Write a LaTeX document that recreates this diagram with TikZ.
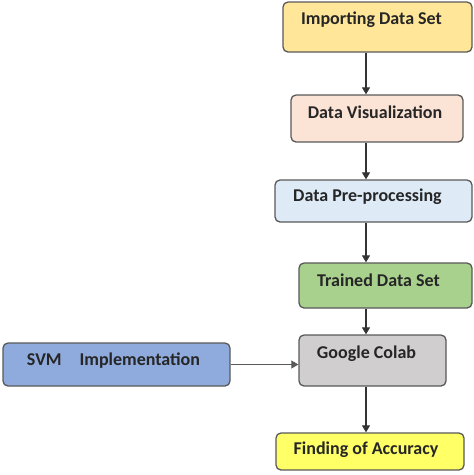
\documentclass[tikz,border=0pt]{standalone}
\usepackage{fontspec}
\setmainfont{Carlito}
\usetikzlibrary{arrows.meta}
\definecolor{impfill}{HTML}{FFE699}
\definecolor{visfill}{HTML}{FBE3D6}
\definecolor{prefill}{HTML}{DEEBF7}
\definecolor{trnfill}{HTML}{A9D18E}
\definecolor{colfill}{HTML}{D0CECE}
\definecolor{svmfill}{HTML}{8FAADC}
\definecolor{accfill}{HTML}{FFFF66}

\begin{document}
\begin{tikzpicture}[x=1pt, y=-1pt,
	box/.style={draw=black!65, line width=1.3pt, rounded corners=5pt, inner sep=0pt},
	txt/.style={font=\fontsize{18}{21}\selectfont\bfseries, text=black!85},
	flow/.style={draw=black!80, line width=1.1pt, -{Triangle[length=7pt, width=8pt]}}]
			%%%%% START %%%%%
			
			\useasboundingbox (0, 0) rectangle (474, 475);
			\coordinate (trunk) at (366, 0);
			
			\node[box, fill=impfill, minimum width=189pt, minimum height=50pt,
				label={[txt, xshift=-6pt, yshift=7pt]center:Importing Data Set}] (imp) at (377.5, 27) {};
			\node[box, fill=visfill, minimum width=172pt, minimum height=47pt,
				label={[txt, xshift=-2pt, yshift=6pt]center:Data Visualization}] (vis) at (377, 118.5) {};
			\node[box, fill=prefill, minimum width=197pt, minimum height=42pt,
				label={[txt, xshift=-6pt, yshift=4pt]center:Data Pre-processing}] (pre) at (373.5, 201) {};
			\node[box, fill=trnfill, minimum width=173pt, minimum height=45pt,
				label={[txt, xshift=-7pt, yshift=5pt]center:Trained Data Set}] (trn) at (385.5, 285.5) {};
			\node[box, fill=colfill, minimum width=147pt, minimum height=51pt,
				label={[txt, xshift=-6pt, yshift=7pt]center:Google Colab}] (col) at (372.5, 360.5) {};
			\node[box, fill=svmfill, minimum width=227pt, minimum height=43pt,
				label={[txt, xshift=-3pt, yshift=4pt]center:SVM\quad Implementation}] (svm) at (116.5, 364.5) {};
			\node[box, fill=accfill, minimum width=188pt, minimum height=37pt,
				label={[txt, xshift=-4pt, yshift=2pt]center:Finding of Accuracy}] (acc) at (370, 451.5) {};
			
			\draw[flow] (imp.south -| trunk) -- (vis.north -| trunk);
			\draw[flow] (vis.south -| trunk) -- (pre.north -| trunk);
			\draw[flow] (pre.south -| trunk) -- (trn.north -| trunk);
			\draw[flow] (trn.south -| trunk) -- (col.north -| trunk);
			\draw[flow] (col.south -| trunk) -- (acc.north -| trunk);
			\draw[flow, draw=black!65, line width=0.9pt] (svm.east) -- (svm.east -| col.west);
			
			%%%%% END %%%%%
\end{tikzpicture}
\end{document}
